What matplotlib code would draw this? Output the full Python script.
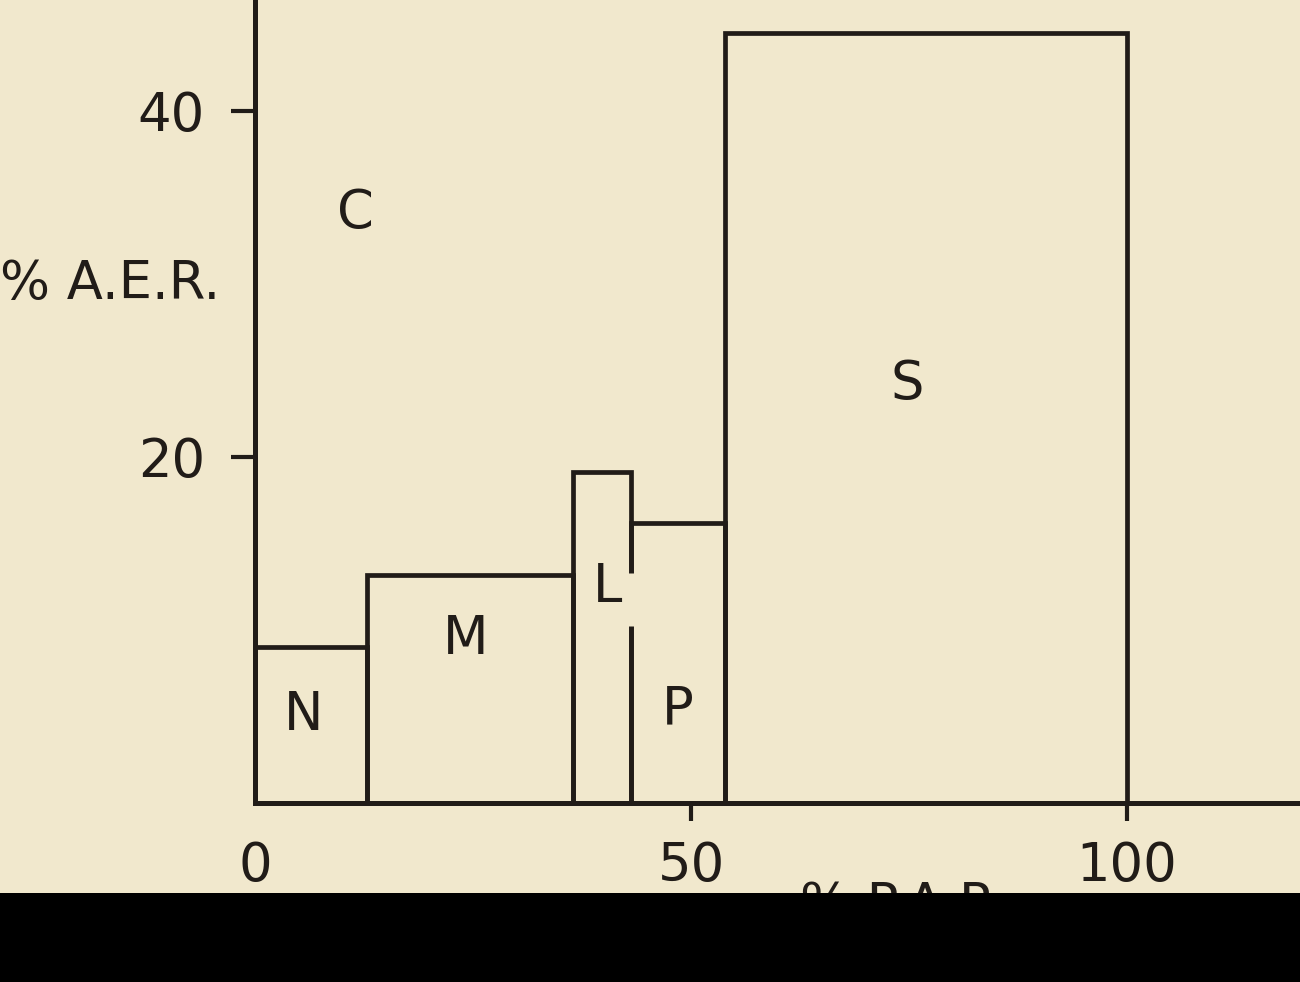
import matplotlib.pyplot as plt
from matplotlib.patches import Rectangle

# % A.E.R. por grupo (anchos en % P.A.P.)
grupos = ['N', 'M', 'L', 'P', 'S']
anchos = [12.8, 23.7, 6.6, 10.8, 46.1]
alturas = [9.0, 13.2, 19.1, 16.2, 44.5]
yticks = [20, 40]
xticks = [0, 50, 100]

# posiciones de las letras dentro de cada caja (y la C de arriba)
letras = ['C', 'N', 'M', 'L', 'P', 'S']
letra_x = [11.5, 5.6, 24.2, 40.4, 48.5, 74.8]
letra_y = [34.1, 5.1, 9.5, 12.5, 5.4, 24.2]

fondo = '#f1e8cd'
tinta = '#211c18'
plt.rcParams['font.family'] = ['DejaVu Sans']

fig = plt.figure(figsize=(13, 9.82), dpi=100)
fig.patch.set_facecolor(fondo)
ax = fig.add_axes([255/1300, (982-803)/982, 1045/1300, 803/982])
ax.set_facecolor(fondo)

izq = [sum(anchos[:i]) for i in range(len(anchos))]
ax.bar(izq, alturas, width=anchos, align='edge', fill=False,
       edgecolor=tinta, linewidth=3.4, zorder=2)

# hueco en la linea entre L y P, donde va la letra
ax.vlines(izq[3], 10.2, 13.3, color=fondo, linewidth=8, zorder=3)

for t, x, y in zip(letras, letra_x, letra_y):
    ax.text(x, y, t, ha='center', va='center', fontsize=38, color=tinta)

ax.set_xlim(0, 1045/8.72)
ax.set_ylim(0, 803/17.31)
for s in ['top', 'right']:
    ax.spines[s].set_visible(False)
for s in ['left', 'bottom']:
    ax.spines[s].set_linewidth(3.6)
    ax.spines[s].set_color(tinta)

ax.set_yticks(yticks)
ax.set_xticks(xticks)
ax.tick_params(axis='y', direction='out', length=17, width=3, pad=19,
               labelsize=38, colors=tinta)
ax.tick_params(axis='x', direction='out', length=13, width=3, pad=14,
               labelsize=38, colors=tinta)
ax.xaxis.get_major_ticks()[0].tick1line.set_visible(False)

ax.text(-4.0, 30.0, '% A.E.R.', ha='right', va='center', fontsize=38,
        color=tinta, clip_on=False)
fig.text(900/1300, 1 - 880/982, '% P.A.P.', ha='center', va='top',
         fontsize=38, color=tinta, zorder=5)

# franja negra inferior
fig.add_artist(Rectangle((0, 0), 1, (982-893)/982, transform=fig.transFigure,
                         facecolor='black', edgecolor='none', zorder=10))

fig.savefig('out.png', dpi=100, facecolor=fondo)
